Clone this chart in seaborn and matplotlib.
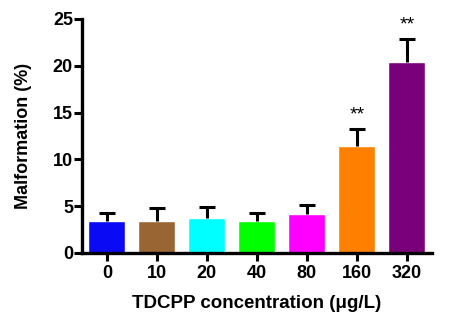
import matplotlib
matplotlib.use("Agg")
import matplotlib.pyplot as plt
import seaborn as sns
import pandas as pd
import numpy as np

categories = ["0", "10", "20", "40", "80", "160", "320"]
means = [3.4, 3.4, 3.7, 3.4, 4.1, 11.4, 20.45]
sems = [0.8, 1.4, 1.2, 0.8, 1.05, 1.8, 2.45]
colors = ["#0a0af5", "#996633", "#00ffff", "#00ff00", "#ff00ff", "#ff8000", "#7a007a"]
marks = ["", "", "", "", "", "**", "**"]

sns.set_theme(style="ticks")
plt.rcParams["font.family"] = ["Liberation Sans", "DejaVu Sans"]
plt.rcParams["text.color"] = "black"
plt.rcParams["axes.labelcolor"] = "black"
plt.rcParams["xtick.color"] = "black"
plt.rcParams["ytick.color"] = "black"

df = pd.DataFrame({"conc": categories, "val": means})

fig = plt.figure(figsize=(4.74, 3.22), dpi=100)
ax = fig.add_axes([0.173, 0.215, 0.738, 0.726])

sns.barplot(data=df, x="conc", y="val", hue="conc", palette=colors,
            order=categories, hue_order=categories, legend=False,
            width=0.74, saturation=1, ax=ax, errorbar=None, zorder=2)

x = np.arange(len(categories))
eb = ax.errorbar(x, means, yerr=[np.zeros(len(sems)), sems], fmt="none",
                 ecolor="black", elinewidth=2.2, capsize=6, capthick=2.2, zorder=3)
# hide the lower caps (only upper error shown)
eb[1][0].set_visible(False)

for xi, m, s, t in zip(x, means, sems, marks):
    if t:
        ax.text(xi, m + s + 0.6, t, ha="center", va="bottom", fontsize=14,
                color="black")

ax.set_ylim(0, 25)
ax.set_xlim(-0.5, 6.5)
ax.set_yticks([0, 5, 10, 15, 20, 25])
ax.set_xlabel("TDCPP concentration (μg/L)", fontsize=13.5, fontweight="bold", labelpad=10)
ax.set_ylabel("Malformation (%)", fontsize=13, fontweight="bold", labelpad=15)
for lab in ax.get_xticklabels() + ax.get_yticklabels():
    lab.set_fontweight("bold")
    lab.set_fontsize(13)
ax.tick_params(axis="x", direction="out", length=5.5, width=2.2, pad=3, color="black")
ax.tick_params(axis="y", direction="out", length=6, width=2.2, pad=0.5, color="black")
for sp in ["left", "bottom"]:
    ax.spines[sp].set_linewidth(2.4)
    ax.spines[sp].set_color("black")
for sp in ["top", "right"]:
    ax.spines[sp].set_visible(False)

fig.savefig("out.png", dpi=100)
